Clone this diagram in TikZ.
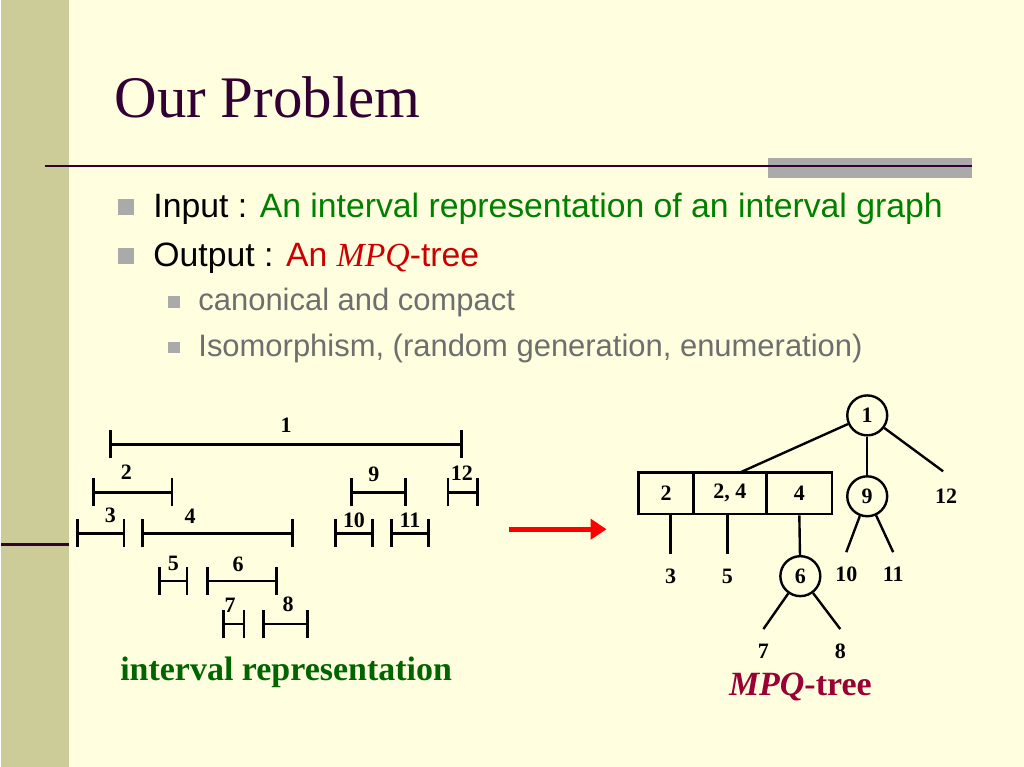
\documentclass[tikz,border=0pt]{standalone}
\usepackage{fontspec}
\setmainfont{Liberation Serif}
\newfontfamily\arial{Liberation Sans}
\usetikzlibrary{arrows.meta}
\definecolor{bgyellow}{RGB}{255,255,224}
\definecolor{sidebar}{RGB}{204,204,153}
\definecolor{titlepurple}{RGB}{51,0,51}
\definecolor{textgreen}{RGB}{0,128,0}
\definecolor{labelgreen}{RGB}{0,100,0}
\definecolor{treered}{RGB}{153,0,51}
\definecolor{bulletgray}{RGB}{170,170,170}
\definecolor{subgray}{RGB}{110,110,110}
\tikzset{
  ivl/.style={line width=2.6pt,{Bar[width=28pt]}-{Bar[width=28pt]}},
  num/.style={font=\fontsize{22}{22}\selectfont\bfseries,inner sep=1pt},
  pnode/.style={draw,circle,line width=2.4pt,minimum size=40pt,inner sep=0pt,font=\fontsize{22}{22}\selectfont\bfseries},
  qbox/.style={draw,line width=2.4pt,minimum height=42pt,inner sep=0pt,num},
  edge/.style={line width=2.4pt},
}
\begin{document}
\begin{tikzpicture}[x=1pt,y=-1pt]
  \fill[bgyellow] (0,0) rectangle (1024,768);
  \fill[sidebar] (0,0) rectangle (68,768);
  \fill[bulletgray] (768,158) rectangle (972,178);
  \draw[titlepurple,line width=2.5pt] (44,166) -- (972,166);
  \draw[titlepurple,line width=3pt] (0,545) -- (68,545);

  % title and bullets
  \node[anchor=base west,inner sep=0pt,text=titlepurple,font=\fontsize{59}{59}\selectfont] (title) at (113,118) {Our Problem};
  \fill[bulletgray] (117,199) rectangle (133,215);
  \fill[bulletgray] (117,248) rectangle (133,264);
  \fill[bulletgray] (167,296) rectangle (179,308);
  \fill[bulletgray] (167,342) rectangle (179,354);
  \node[anchor=base west,inner sep=0pt,font=\arial\fontsize{33.8}{34}\selectfont] (in) at (152,218) {Input : \textcolor{textgreen}{An interval representation of an interval graph}};
  \node[anchor=base west,inner sep=0pt,font=\arial\fontsize{33.8}{34}\selectfont] (out) at (152,267) {Output : \textcolor{red!80!black}{An \textrm{\textit{MPQ}}-tree}};
  \node[anchor=base west,inner sep=0pt,text=subgray,font=\arial\fontsize{31}{31}\selectfont] (s1) at (197,311) {canonical and compact};
  \node[anchor=base west,inner sep=0pt,text=subgray,font=\arial\fontsize{31}{31}\selectfont] (s2) at (197,357) {Isomorphism, (random generation, enumeration)};

  % interval representation
  \draw[ivl] (108,445) -- (462,445);
  \draw[ivl] (91,493) -- (172,493);
  \draw[ivl] (75,534) -- (124,534);
  \draw[ivl] (140,534) -- (293,534);
  \draw[ivl] (157,582) -- (187,582);
  \draw[ivl] (205,582) -- (277,582);
  \draw[ivl] (221,625) -- (244,625);
  \draw[ivl] (261,625) -- (308,625);
  \draw[ivl] (349,493) -- (406,493);
  \draw[ivl] (333,534) -- (373,534);
  \draw[ivl] (389,534) -- (429,534);
  \draw[ivl] (446,493) -- (478,493);
  \node[num] (i1) at (285,426) {1};
  \node[num] (i2) at (125,473) {2};
  \node[num] (i3) at (109,516) {3};
  \node[num] (i4) at (189,517) {4};
  \node[num] (i5) at (172,564) {5};
  \node[num] (i6) at (237,565) {6};
  \node[num] (i7) at (229,606) {7};
  \node[num] (i8) at (287,605) {8};
  \node[num] (i9) at (373,475) {9};
  \node[num] (i10) at (353,521) {10};
  \node[num] (i11) at (409,521) {11};
  \node[num] (i12) at (461,474) {12};
  \node[text=labelgreen,font=\fontsize{34}{34}\selectfont\bfseries] (ivlabel) at (285,673) {interval representation};

  % arrow
  \coordinate (a1) at (508,530);
  \coordinate (a2) at (606,530);
  \draw[red,line width=5pt,-{Triangle[length=16pt,width=20pt]}] (a1) -- (a2);

  % MPQ-tree
  \node[pnode] (t1) at (867,416) {1};
  \node[qbox,minimum width=55pt] (q1) at (665.5,494) {2};
  \node[qbox,minimum width=73pt] (q2) at (729.5,494) {2, 4};
  \node[qbox,minimum width=66pt] (q3) at (799,494) {4};
  \node[pnode] (t9) at (867,497) {9};
  \node[num] (t12) at (946,497) {12};
  \node[num] (t3) at (670,577) {3};
  \node[num] (t5) at (727,577) {5};
  \node[pnode] (t6) at (800,577) {6};
  \node[num] (t10) at (846,575) {10};
  \node[num] (t11) at (893,575) {11};
  \node[num] (t7) at (763,652) {7};
  \node[num] (t8) at (840,652) {8};
  \coordinate (e12) at (943,472);
  \coordinate (e3) at (670,555);
  \coordinate (e5) at (727,555);
  \coordinate (e10) at (846,553);
  \coordinate (e11) at (893,553);
  \coordinate (e7) at (763,630);
  \coordinate (e8) at (840,630);
  \draw[edge] (t1) -- (740,473);
  \draw[edge] (t1) -- (t9);
  \draw[edge] (t1) -- (e12);
  \draw[edge] (670,515) -- (e3);
  \draw[edge] (727,515) -- (e5);
  \draw[edge] (q3.south) -- (t6);
  \draw[edge] (t9) -- (e10);
  \draw[edge] (t9) -- (e11);
  \draw[edge] (t6) -- (e7);
  \draw[edge] (t6) -- (e8);
  \node[text=treered,font=\fontsize{34}{34}\selectfont\bfseries] (mpq) at (800,688) {\textit{MPQ}-tree};
\end{tikzpicture}
\end{document}
